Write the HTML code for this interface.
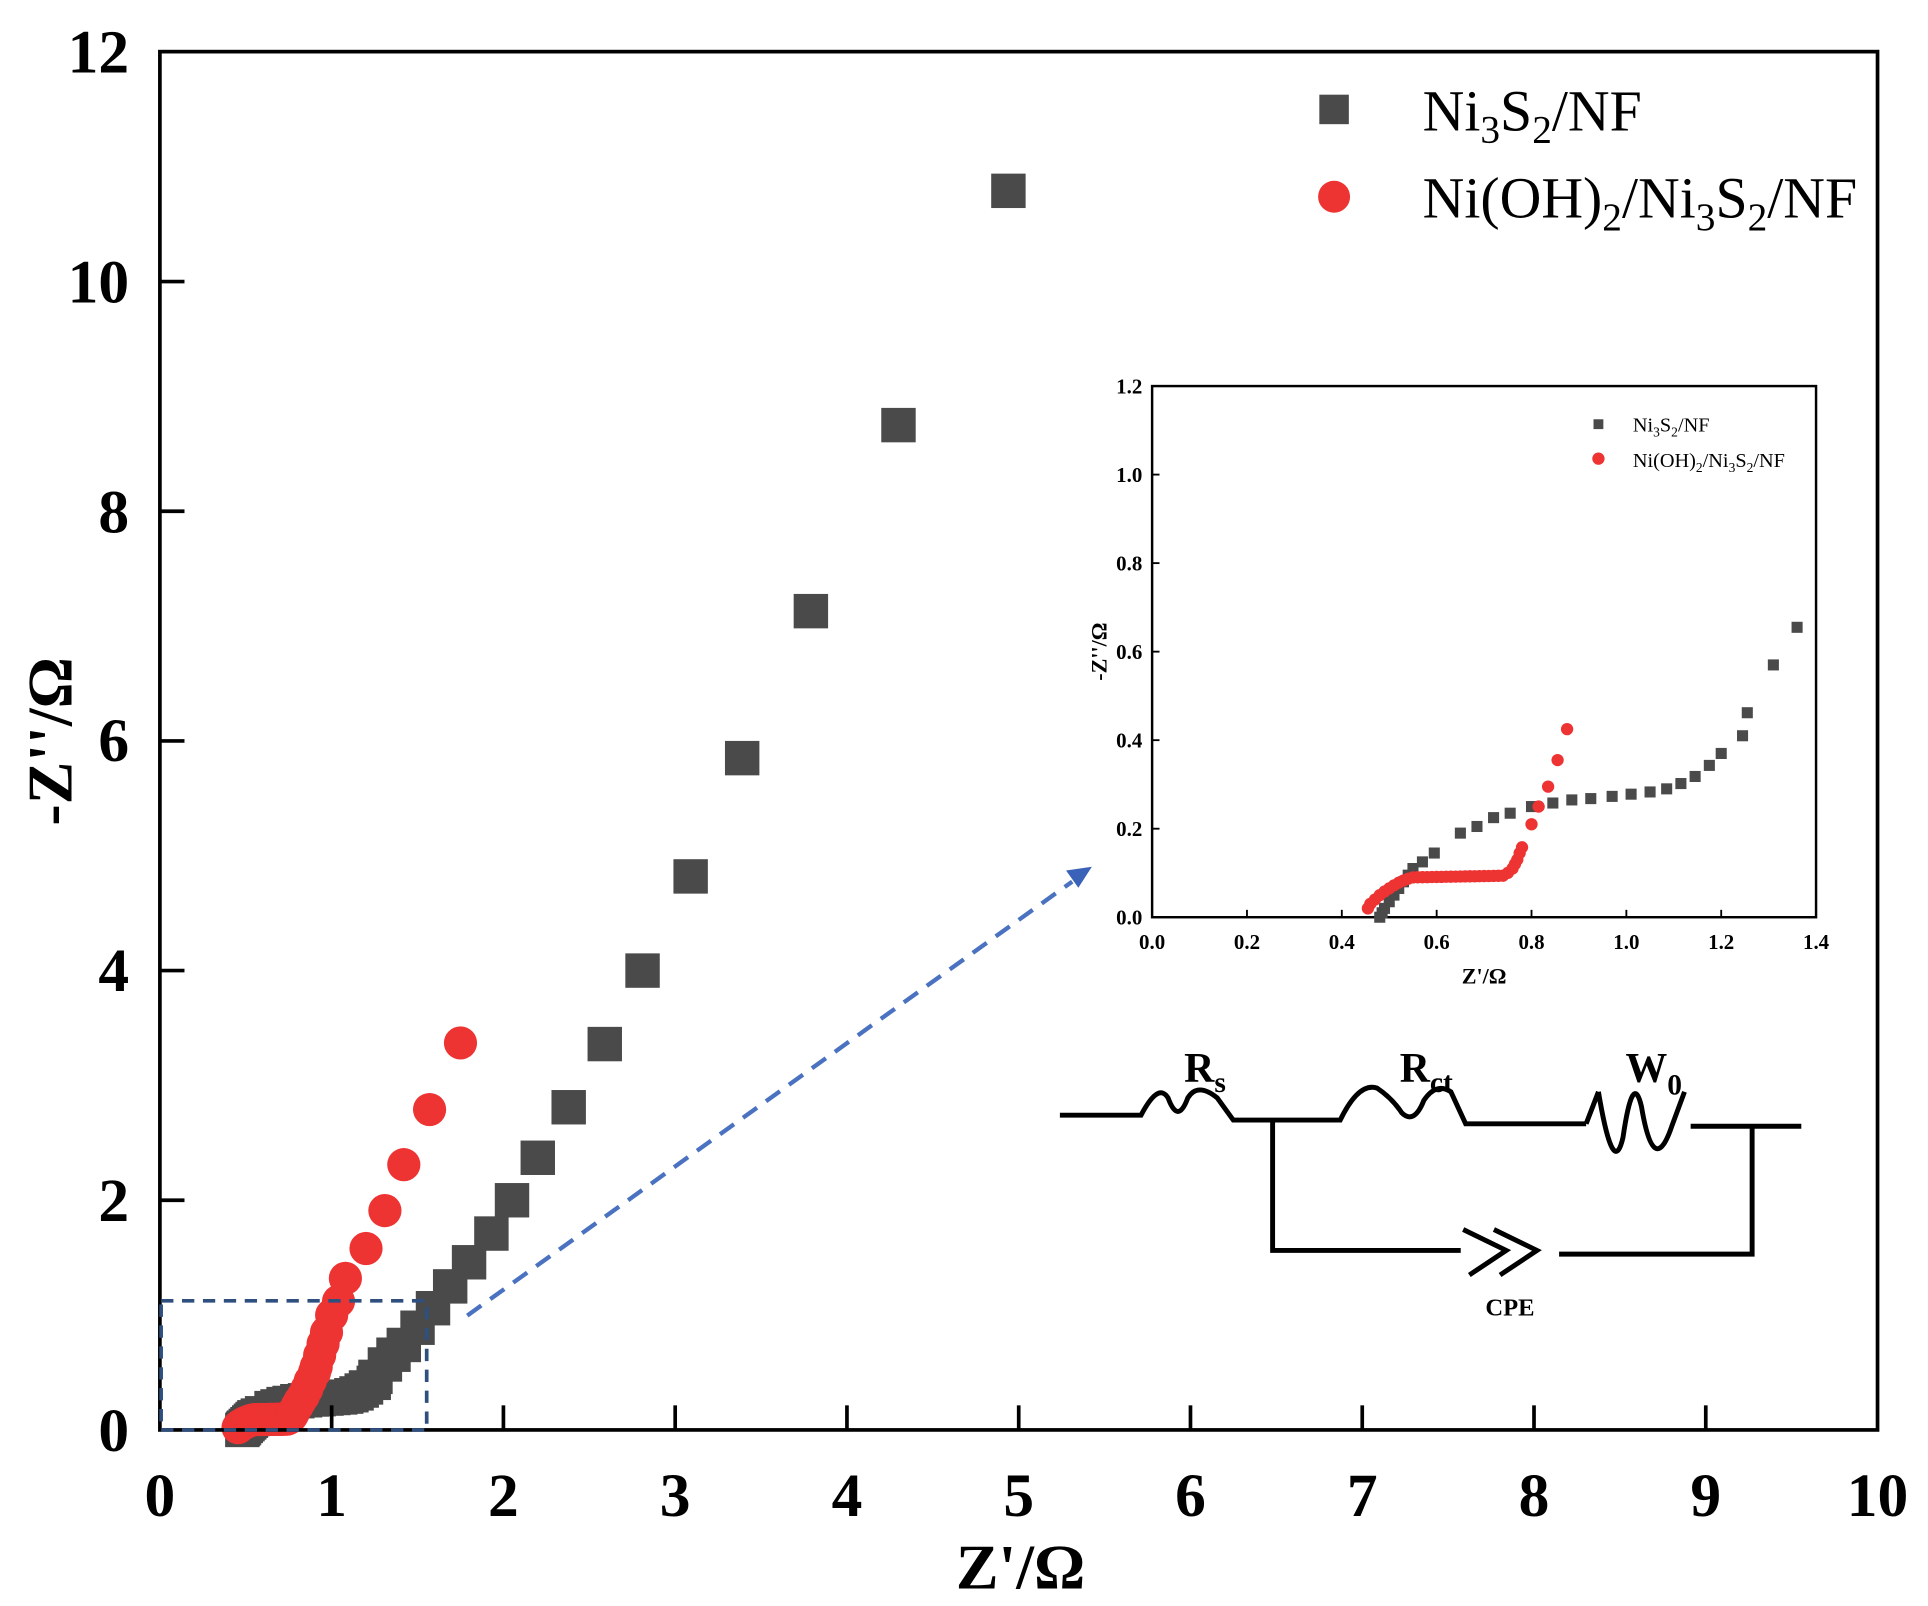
<!DOCTYPE html>
<html><head><meta charset="utf-8"><style>
html,body{margin:0;padding:0;background:#fff;}
svg{display:block;}
text{font-family:"Liberation Serif",serif;}
</style></head><body>
<svg id="s" width="1928" height="1606" viewBox="0 0 1568 1306.2" xmlns="http://www.w3.org/2000/svg">
<rect width="1568" height="1306.2" fill="#fff"/>
<g id="main"></g>
<rect x="130" y="42" width="1397" height="1121" fill="none" stroke="#000" stroke-width="3"/>
<g id="ticks" stroke="#000" stroke-width="3"></g>
<g font-weight="bold" font-size="50" text-anchor="end">
<text x="105" y="1180">0</text><text x="105" y="993">2</text><text x="105" y="806">4</text>
<text x="105" y="619">6</text><text x="105" y="433">8</text><text x="105" y="246">10</text><text x="105" y="59">12</text>
</g>
<g font-weight="bold" font-size="50" text-anchor="middle" id="xl"></g>
<text x="830" y="1292" font-weight="bold" font-size="52" text-anchor="middle">Z'/Ω</text>
<text transform="translate(58,603) rotate(-90)" font-weight="bold" font-size="52" text-anchor="middle">-Z''/Ω</text>
<rect x="1073" y="77" width="24" height="24" fill="#4a4a4a"/>
<circle cx="1085" cy="160" r="13" fill="#ee3333"/>
<text x="1157" y="106" font-size="47">Ni<tspan font-size="32" dy="10">3</tspan><tspan dy="-10">S</tspan><tspan font-size="32" dy="10">2</tspan><tspan dy="-10">/NF</tspan></text>
<text x="1157" y="177" font-size="47">Ni(OH)<tspan font-size="32" dy="10">2</tspan><tspan dy="-10">/Ni</tspan><tspan font-size="32" dy="10">3</tspan><tspan dy="-10">S</tspan><tspan font-size="32" dy="10">2</tspan><tspan dy="-10">/NF</tspan></text>
<rect x="131" y="1058" width="216" height="105" fill="none" stroke="#2f4f7f" stroke-width="3" stroke-dasharray="10,7"/>
<line x1="380" y1="1070" x2="872" y2="717" stroke="#4a72c0" stroke-width="3.5" stroke-dasharray="14,9"/>
<polygon points="888,705 867,708 877,722" fill="#3a62b8"/>
<rect x="937" y="314" width="540" height="432" fill="none" stroke="#000" stroke-width="2"/>
<g id="inset"></g>
<g font-weight="bold" font-size="17" text-anchor="end" id="iyl"></g>
<g font-weight="bold" font-size="17" text-anchor="middle" id="ixl"></g>
<text x="1207" y="800" font-weight="bold" font-size="18" text-anchor="middle">Z'/Ω</text>
<text transform="translate(900,530) rotate(-90)" font-weight="bold" font-size="18" text-anchor="middle">-Z''/Ω</text>
<rect x="1296" y="341" width="8" height="8" fill="#4a4a4a"/>
<circle cx="1300" cy="373" r="5" fill="#ee3333"/>
<text x="1328" y="351" font-size="16.5">Ni<tspan font-size="11" dy="4">3</tspan><tspan dy="-4">S</tspan><tspan font-size="11" dy="4">2</tspan><tspan dy="-4">/NF</tspan></text>
<text x="1328" y="380" font-size="16.5">Ni(OH)<tspan font-size="11" dy="4">2</tspan><tspan dy="-4">/Ni</tspan><tspan font-size="11" dy="4">3</tspan><tspan dy="-4">S</tspan><tspan font-size="11" dy="4">2</tspan><tspan dy="-4">/NF</tspan></text>
<g fill="none" stroke="#000" stroke-width="4">
<path d="M862,907 H928 Q942,880 950,893 Q958,915 966,893 Q974,880 990,893 L1003,911 H1035 H1090 Q1105,880 1120,885 Q1132,893 1140,905 Q1150,915 1158,895 Q1168,880 1180,888 L1192,914 H1290"/>
<path d="M1290,914 L1300,888 M1300,888 Q1312,960 1320,925 Q1328,870 1335,900 Q1345,960 1360,915 L1370,888 M1375,916 H1465"/>
<path d="M1035,911 V1017 H1188"/>
<path d="M1425,916 V1020 H1268"/>
<path d="M1190,1000 L1225,1017 L1195,1037 M1215,1000 L1250,1017 L1220,1037"/>
</g>
<g font-weight="bold" text-anchor="middle">
<text x="980" y="880" font-size="34">R<tspan font-size="24" dy="8">s</tspan></text>
<text x="1160" y="880" font-size="34">R<tspan font-size="24" dy="8">ct</tspan></text>
<text x="1345" y="880" font-size="34">W<tspan font-size="24" dy="10">0</tspan></text>
<text x="1228" y="1070" font-size="20">CPE</text>
</g>
</svg>
<script>
var NS="http://www.w3.org/2000/svg";
function el(p,t,a){var e=document.createElementNS(NS,t);for(var k in a)e.setAttribute(k,a[k]);p.appendChild(e);return e;}
var sq=[[0.48,0],[0.485,0.01],[0.49,0.02],[0.5,0.035],[0.51,0.05],[0.52,0.065],[0.53,0.08],[0.54,0.095],[0.55,0.11],[0.57,0.125],[0.595,0.145],[0.65,0.19],[0.685,0.205],[0.72,0.225],[0.755,0.235],[0.8,0.25],[0.845,0.258],[0.885,0.265],[0.925,0.268],[0.97,0.273],[1.01,0.278],[1.05,0.283],[1.085,0.29],[1.115,0.302],[1.145,0.318],[1.175,0.343],[1.2,0.37],[1.245,0.41],[1.255,0.462],[1.31,0.57],[1.36,0.655]];
var sqm=[[1.42,0.74],[1.5,0.89],[1.59,1.06],[1.69,1.25],[1.8,1.46],[1.93,1.71],[2.05,2.0],[2.2,2.37],[2.38,2.81],[2.59,3.36],[2.81,4.0],[3.09,4.82],[3.39,5.85],[3.79,7.13],[4.3,8.75],[4.94,10.79]];
var rd=[[0.455,0.02],[0.46,0.03],[0.47,0.04],[0.48,0.05],[0.49,0.058],[0.5,0.065],[0.51,0.072],[0.52,0.078],[0.53,0.083],[0.54,0.087]];
for(var x=0.55;x<0.745;x+=0.01)rd.push([x,0.09+(x-0.55)*0.02]);
rd=rd.concat([[0.75,0.1],[0.76,0.11],[0.765,0.12],[0.77,0.13],[0.775,0.145],[0.78,0.158],[0.8,0.21],[0.815,0.25],[0.835,0.295],[0.855,0.355],[0.875,0.425]]);
var rdm=[[0.9,0.5],[0.91,0.55],[0.93,0.65],[0.95,0.75],[0.97,0.85],[1.0,1.0],[1.04,1.12],[1.08,1.32],[1.2,1.58],[1.31,1.91],[1.42,2.31],[1.57,2.79],[1.75,3.37]];
var m=document.getElementById("main");
function MX(v){return 130+139.7*v;} function MY(v){return 1163-93.4*v;}
sq.concat(sqm).forEach(function(p){el(m,"rect",{x:MX(p[0])-14,y:MY(p[1])-14,width:28,height:28,fill:"#4a4a4a"});});
rd.concat(rdm).forEach(function(p){el(m,"circle",{cx:MX(p[0]),cy:MY(p[1]),r:13.5,fill:"#ee3333"});});
var t=document.getElementById("ticks"),xl=document.getElementById("xl");
for(var i=0;i<=10;i++){var X=MX(i);if(i>0&&i<10)el(t,"line",{x1:X,y1:1163,x2:X,y2:1143});var tx=el(xl,"text",{x:X,y:1233});tx.textContent=i;}
for(var j=2;j<12;j+=2){el(t,"line",{x1:130,y1:MY(j),x2:150,y2:MY(j)});}
var ins=document.getElementById("inset");
function IX(v){return 937+540*v/1.4;} function IY(v){return 746-432*v/1.2;}
sq.forEach(function(p){el(ins,"rect",{x:IX(p[0])-4.5,y:IY(p[1])-4.5,width:9,height:9,fill:"#4a4a4a"});});
rd.forEach(function(p){el(ins,"circle",{cx:IX(p[0]),cy:IY(p[1]),r:5,fill:"#ee3333"});});
var iyl=document.getElementById("iyl"),ixl=document.getElementById("ixl");
for(var k=0;k<=6;k++){var v=k*0.2;var yy=IY(v);if(k>0&&k<6)el(ins,"line",{x1:937,y1:yy,x2:943,y2:yy,stroke:"#000","stroke-width":1.5});var a=el(iyl,"text",{x:929,y:yy+6});a.textContent=v.toFixed(1);}
for(var k=0;k<=7;k++){var v=k*0.2;var xx=IX(v);if(k>0&&k<7)el(ins,"line",{x1:xx,y1:746,x2:xx,y2:740,stroke:"#000","stroke-width":1.5});var b=el(ixl,"text",{x:xx,y:772});b.textContent=v.toFixed(1);}
</script>
</body></html>
